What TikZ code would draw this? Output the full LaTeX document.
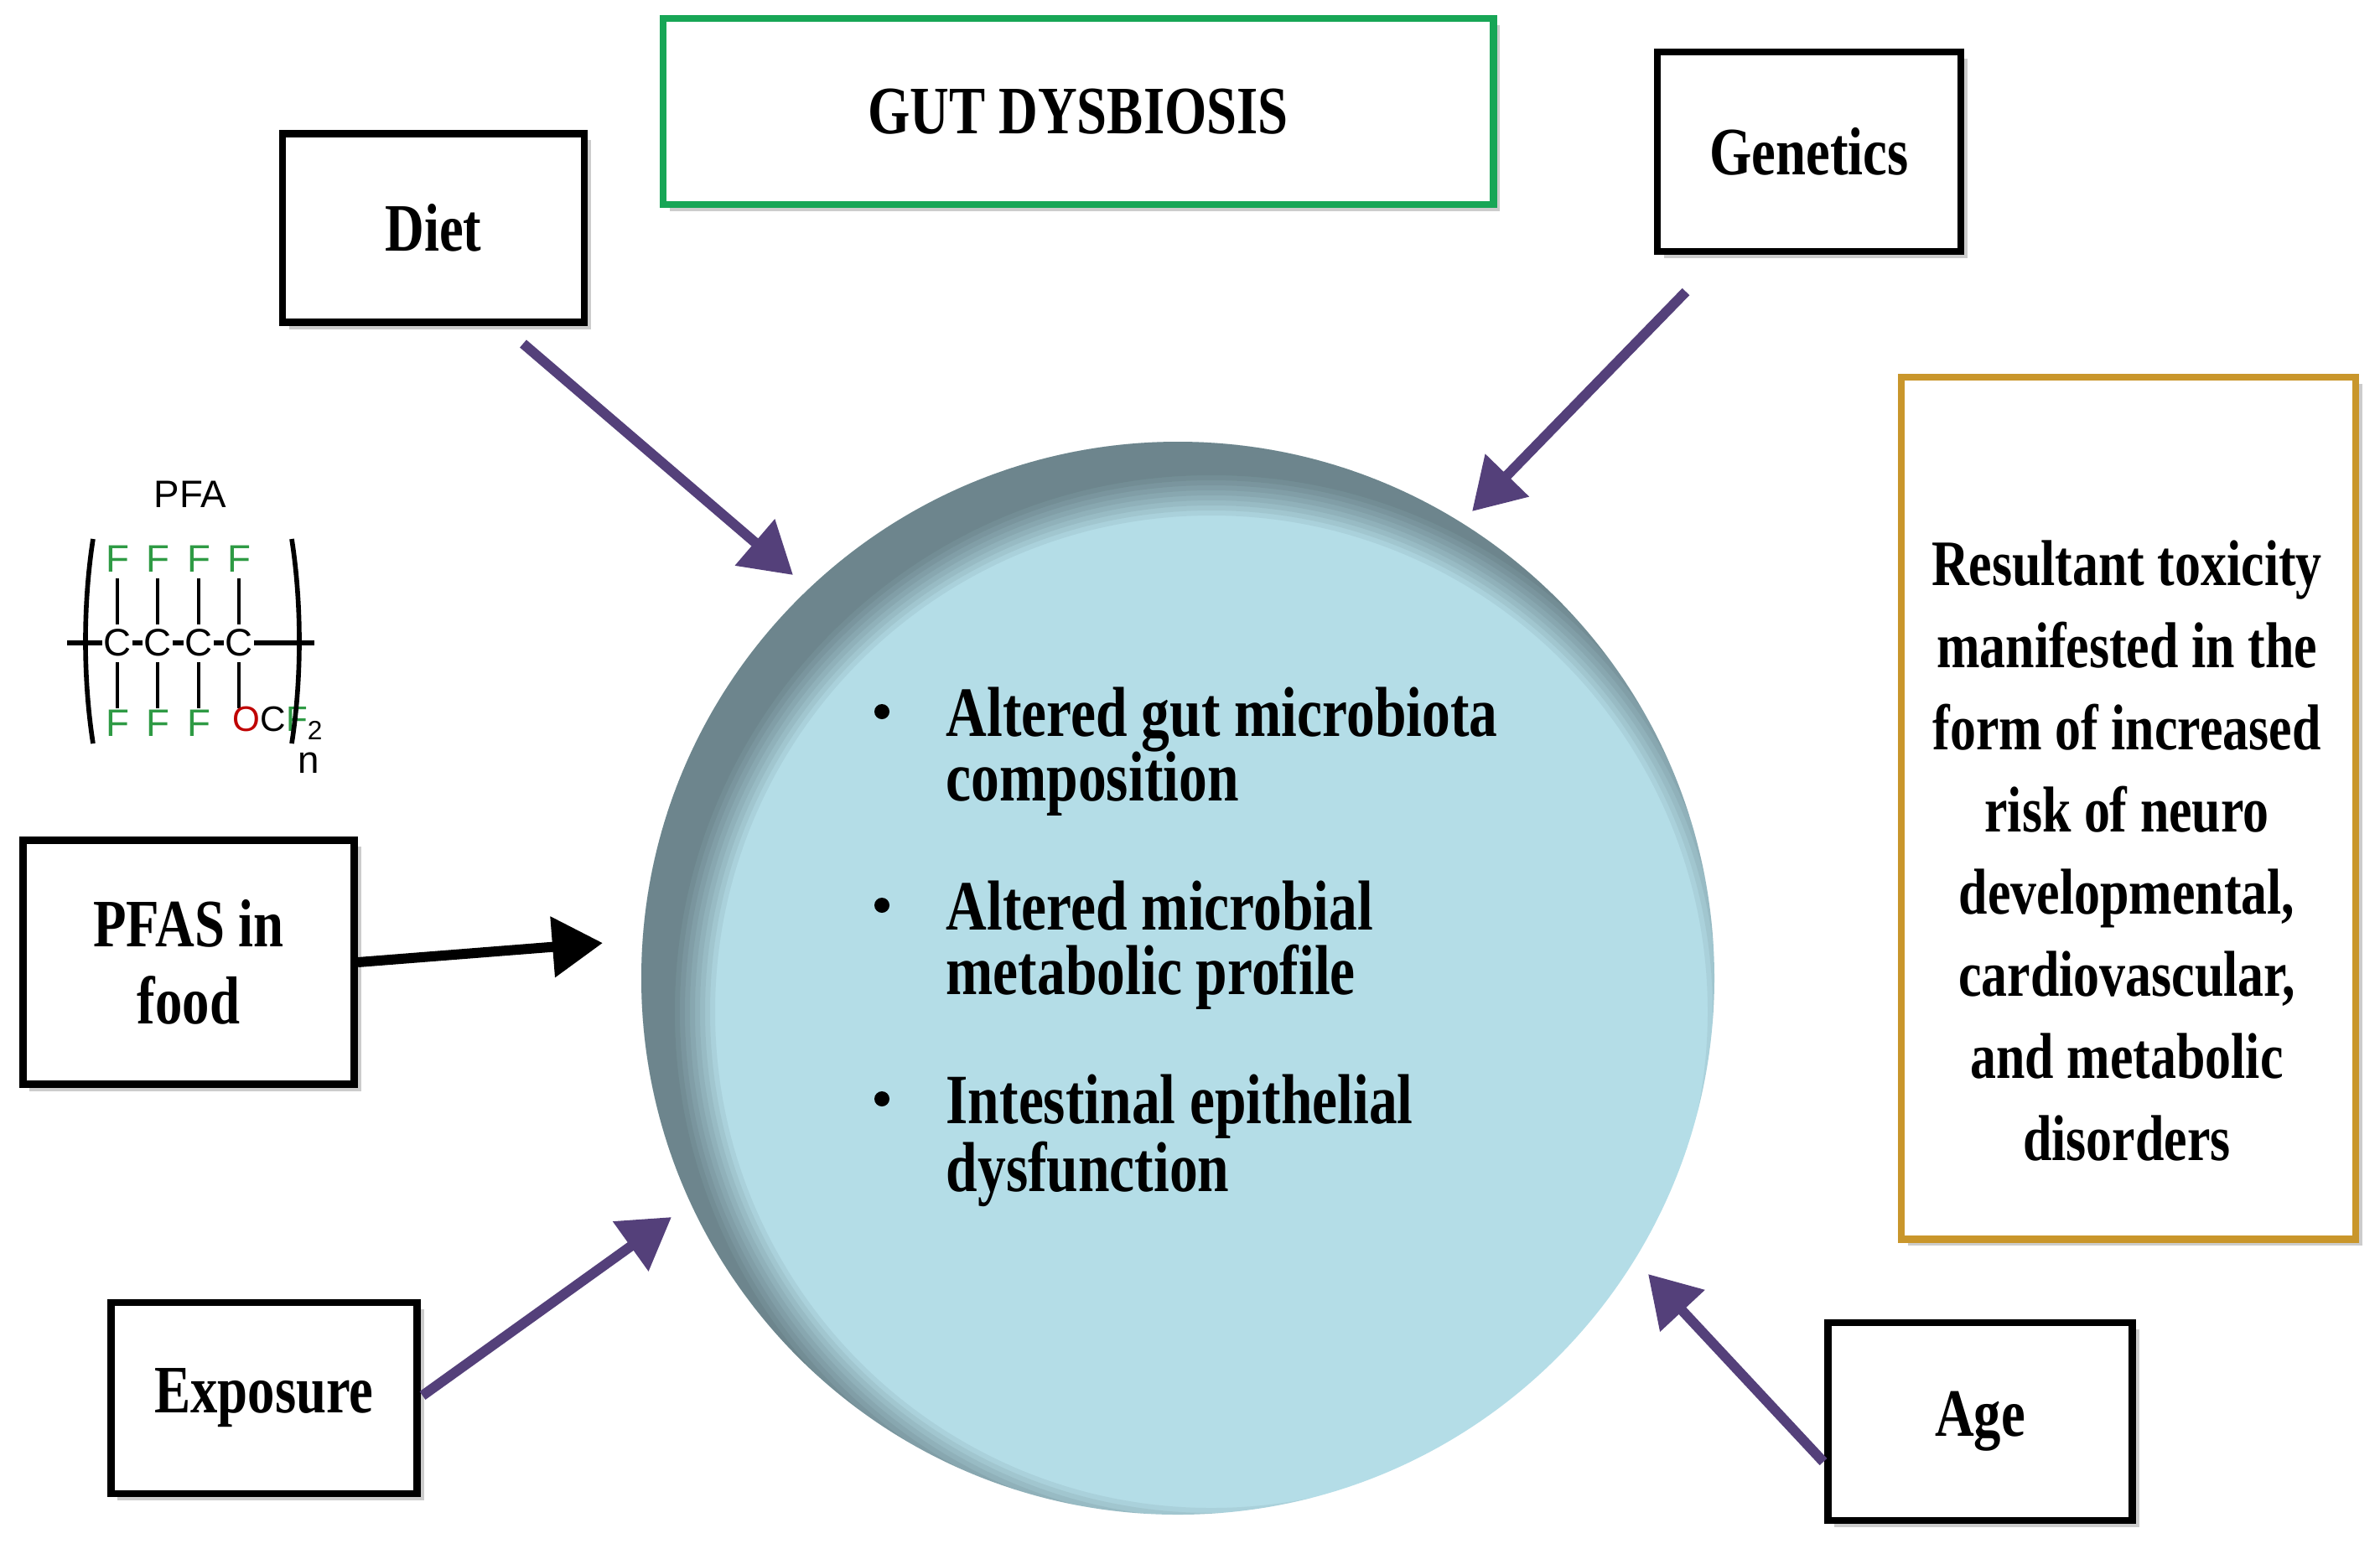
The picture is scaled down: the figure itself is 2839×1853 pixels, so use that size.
\documentclass[tikz,border=0pt]{standalone}
\usepackage{fontspec}
\setmainfont{Liberation Serif}[FakeStretch=0.8]
\newfontfamily\chem{Liberation Sans}
\usetikzlibrary{shadows,arrows.meta}
\definecolor{arr}{HTML}{54407A}
\definecolor{circ}{HTML}{B4DDE7}
\definecolor{gbox}{HTML}{17A656}
\definecolor{obox}{HTML}{C9962B}
\definecolor{fgreen}{HTML}{2E9A44}
\begin{document}
\begin{tikzpicture}[x=0.01cm,y=-0.01cm,
  box/.style={draw=black,line width=2.4pt,fill=white,align=center,font=\fontsize{23}{26}\selectfont\bfseries,
    drop shadow={shadow xshift=0.08cm,shadow yshift=-0.08cm,fill=black!40,opacity=0.5}},
  parr/.style={line width=0.12cm,-{Triangle[length=0.6cm,width=0.7cm]}},
  bul/.style={anchor=north west,align=left,font=\fontsize{24}{22}\selectfont\bfseries,inner sep=0pt},
  ch/.style={font=\chem\fontsize{13}{13}\selectfont,inner sep=0pt},
  F/.style={ch,text=fgreen}]
\useasboundingbox (0,0) rectangle (2839,1853);
% circle with inner shadow
\fill[circ] (1405,1167) circle (640);
\begin{scope}
\clip (1405,1167) circle (640);
\foreach \r in {640,634,628,622,616,610,604,598,592}
  \fill[black,opacity=0.05,even odd rule] (700,450) rectangle (2100,1850) (1445,1207) circle (\r);
\end{scope}
% boxes
\node[box,draw=gbox,minimum width=9.9cm,minimum height=2.22cm] (gut) at (1286,133) {GUT DYSBIOSIS};
\node[box,minimum width=3.6cm,minimum height=2.25cm] (diet) at (517,272) {Diet};
\node[box,minimum width=3.62cm,minimum height=2.38cm] (gen) at (2158,181) {Genetics};
\node[box,minimum width=3.95cm,minimum height=2.91cm] (pfas) at (225,1148) {PFAS in\\food};
\node[box,minimum width=3.65cm,minimum height=2.28cm] (exp) at (315,1668) {Exposure};
\node[box,minimum width=3.63cm,minimum height=2.36cm] (age) at (2362,1696) {Age};
\node[box,draw=obox,minimum width=5.42cm,minimum height=10.28cm] (res) at (2539,964) {};
\node[align=center,font=\fontsize{22}{27.9}\selectfont\bfseries] (rest) at (2537,1015) {Resultant toxicity\\manifested in the\\form of increased\\risk of neuro\\developmental,\\cardiovascular,\\and metabolic\\disorders};
% arrows
\coordinate (a1) at (946,686); \coordinate (a2) at (1756,610);
\coordinate (a3) at (719,1125); \coordinate (a4) at (801,1452); \coordinate (a5) at (1966,1520);
\coordinate (s1) at (624,410); \coordinate (s2) at (2011,348); \coordinate (s4) at (504,1665); \coordinate (s5) at (2175,1744);
\draw[parr,arr] (s1) -- (a1);
\draw[parr,arr] (s2) -- (a2);
\draw[parr,arr] (s4) -- (a4);
\draw[parr,arr] (s5) -- (a5);
\draw[parr,black] (pfas.east) -- (a3);
% bullets
\foreach \y/\t in {819/{Altered gut microbiota\\composition},1050/{Altered microbial\\metabolic profile},1281/{Intestinal epithelial\\dysfunction}}{
  \node[bul] at (1128,\y) {\t};
  \fill (1052,\y+30) circle (9);
}
% PFA structure
\node[ch] (pfa) at (227,590) {PFA};
\draw[line width=1.6pt] (80,767) -- (375,767);
\foreach \x in {140,188,237,285}{
  \node[ch,fill=white,inner sep=0.3pt] (c\x) at (\x,767) {C};
  \draw[line width=1.4pt] (\x,690) -- (\x,745) (\x,790) -- (\x,845);
  \node[F] at (\x,667) {F};
}
\foreach \x in {140,188,237}{\node[F] at (\x,863) {F};}
\node[ch,anchor=west,font=\chem\fontsize{12}{12}\selectfont] at (277,863) {\textcolor{red!75!black}{O}C\textcolor{fgreen}{F}\raisebox{-0.45ex}{\fontsize{9}{9}\selectfont 2}};
\node[ch] at (368,910) {n};
\draw[line width=1.6pt] (111,643) .. controls (99,720) and (99,810) .. (111,887);
\draw[line width=1.6pt] (348,643) .. controls (360,720) and (360,810) .. (348,887);
\end{tikzpicture}
\end{document}
